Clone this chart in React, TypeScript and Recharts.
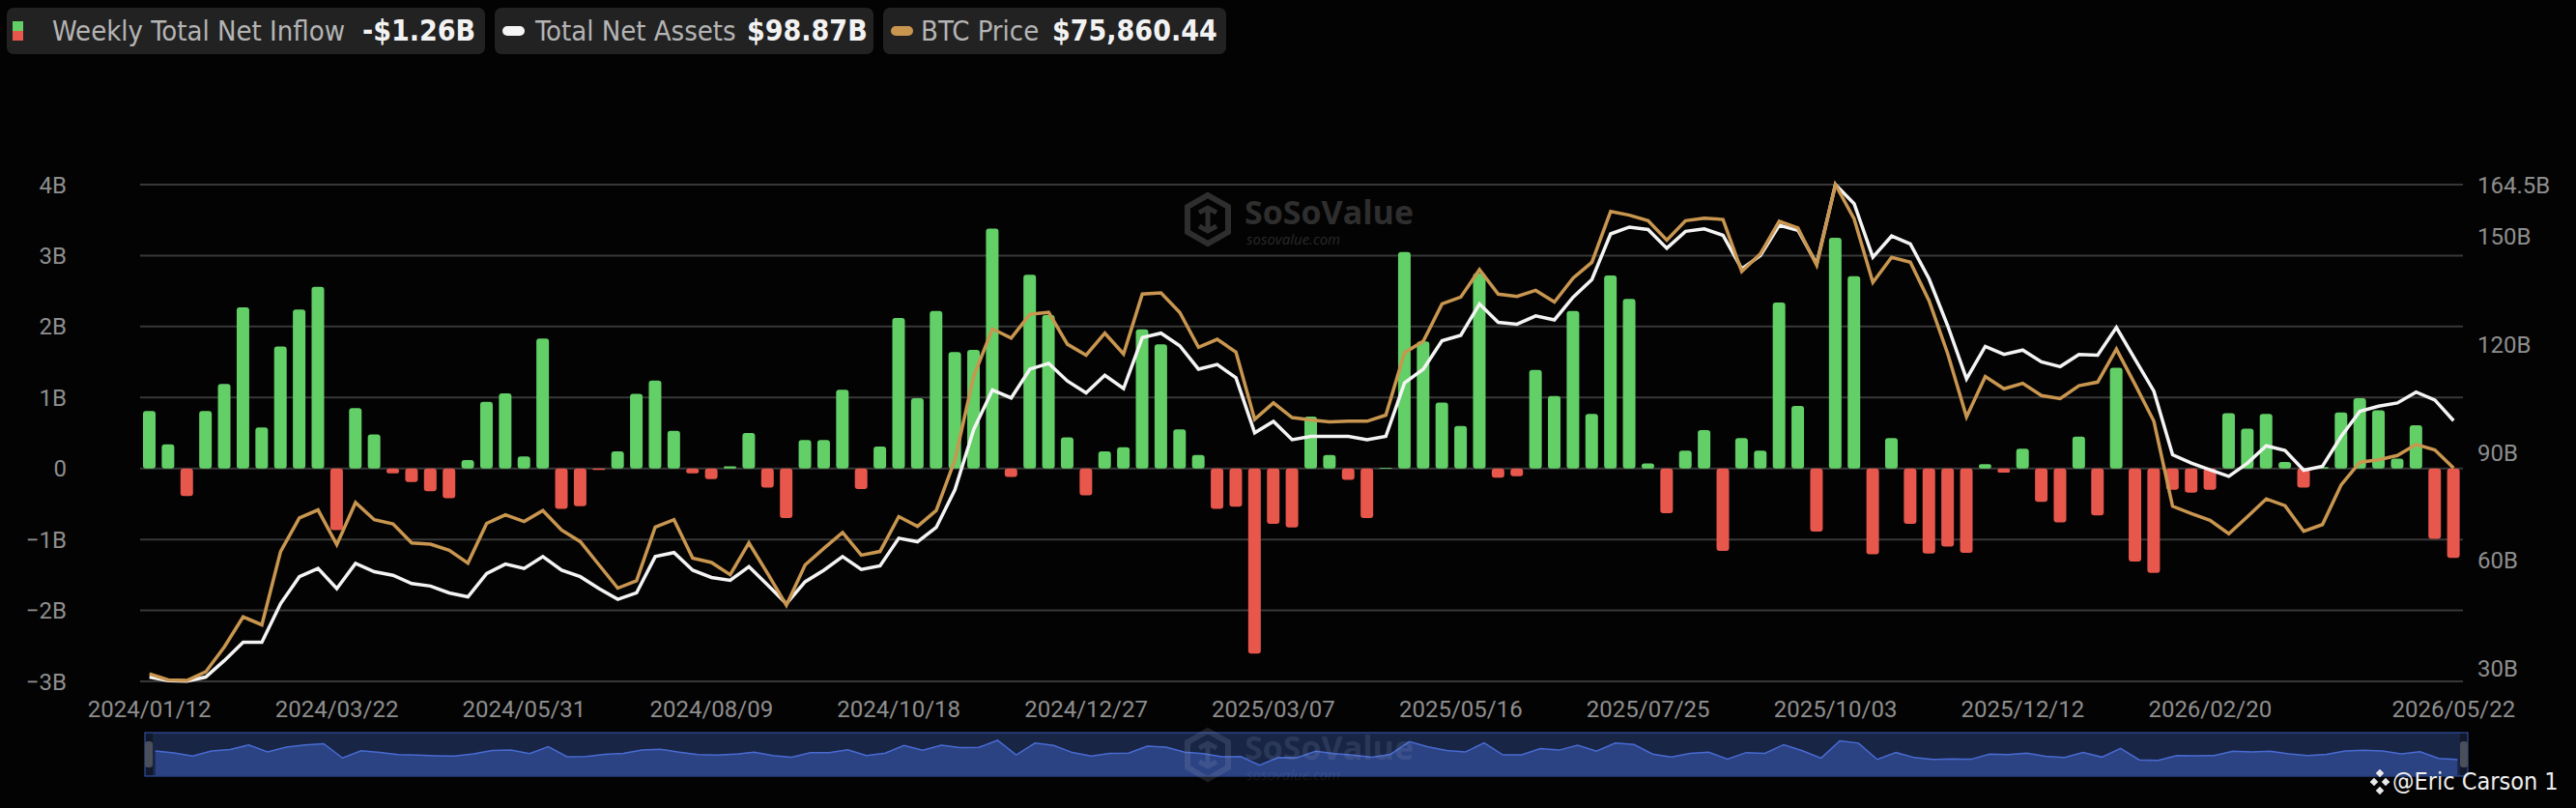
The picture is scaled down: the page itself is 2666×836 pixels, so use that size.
import { ComposedChart, AreaChart, Bar, Line, Area, XAxis, YAxis, CartesianGrid, Cell, Brush } from 'recharts'

// weekly Friday dates, 2024/01/12 .. 2026/05/22
function weeklyDates(start: string, count: number) {
  const out: string[] = []
  const t0 = Date.parse(start + 'T00:00:00Z')
  for (let i = 0; i < count; i++) {
    const d = new Date(t0 + i * 7 * 86400000)
    const mm = String(d.getUTCMonth() + 1).padStart(2, '0')
    const dd = String(d.getUTCDate()).padStart(2, '0')
    out.push(`${d.getUTCFullYear()}/${mm}/${dd}`)
  }
  return out
}

const dates = weeklyDates('2024-01-12', 124)

const dateTicks = [
  '2024/01/12', '2024/03/22', '2024/05/31', '2024/08/09', '2024/10/18', '2024/12/27',
  '2025/03/07', '2025/05/16', '2025/07/25', '2025/10/03', '2025/12/12', '2026/02/20', '2026/05/22',
]

// weekly total net inflow, billions USD
const inflow = [
  0.81, 0.34, -0.39, 0.81, 1.19, 2.27, 0.58, 1.72, 2.24, 2.56,
  -0.87, 0.85, 0.48, -0.07, -0.19, -0.32, -0.42, 0.12, 0.94, 1.06,
  0.17, 1.83, -0.57, -0.53, -0.02, 0.24, 1.05, 1.24, 0.53, -0.07,
  -0.15, 0.03, 0.5, -0.27, -0.7, 0.4, 0.4, 1.11, -0.29, 0.31,
  2.12, 0.99, 2.22, 1.64, 1.67, 3.38, -0.12, 2.73, 2.16, 0.44,
  -0.38, 0.24, 0.3, 1.96, 1.75, 0.55, 0.19, -0.57, -0.54, -2.61,
  -0.78, -0.83, 0.73, 0.19, -0.16, -0.7, 0.01, 3.05, 1.79, 0.93,
  0.6, 2.75, -0.13, -0.11, 1.39, 1.02, 2.22, 0.77, 2.72, 2.39,
  0.07, -0.63, 0.25, 0.54, -1.16, 0.43, 0.25, 2.34, 0.88, -0.89,
  3.25, 2.71, -1.21, 0.43, -0.78, -1.2, -1.1, -1.19, 0.06, -0.06,
  0.28, -0.47, -0.76, 0.45, -0.66, 1.42, -1.31, -1.47, -0.3, -0.34,
  -0.3, 0.78, 0.56, 0.77, 0.09, -0.27, 0.02, 0.79, 0.99, 0.82,
  0.14, 0.61, -0.99, -1.26,
]

// total net assets, billions USD
const netAssets = [
  27.6, 26.6, 26.5, 27.6, 32.2, 37.3, 37.3, 48.0, 55.5, 57.8,
  52.2, 59.2, 56.9, 55.9, 53.6, 52.9, 51.0, 49.9, 56.4, 59.0,
  57.8, 61.1, 57.3, 55.5, 52.2, 49.2, 51.0, 61.1, 62.2, 57.3,
  55.3, 54.5, 58.3, 53.2, 48.0, 54.1, 57.3, 61.1, 57.5, 58.5,
  66.2, 65.2, 69.2, 79.7, 96.4, 107.4, 105.2, 113.2, 114.8, 109.9,
  106.6, 111.5, 107.8, 122.0, 123.2, 119.7, 113.2, 114.5, 110.8, 95.5,
  98.7, 93.6, 94.5, 94.5, 94.5, 93.6, 94.5, 109.4, 113.2, 121.1,
  122.6, 131.3, 126.2, 125.7, 128.0, 126.9, 133.2, 138.1, 150.8, 152.7,
  152.0, 146.8, 151.5, 152.2, 150.4, 141.1, 144.8, 153.2, 151.8, 142.5,
  164.5, 159.2, 144.3, 150.2, 148.0, 138.3, 125.2, 110.5, 119.5, 117.3,
  118.5, 115.2, 113.9, 117.3, 117.1, 124.8, 115.9, 107.1, 89.4, 87.1,
  85.2, 83.4, 87.1, 91.9, 90.6, 85.1, 86.2, 94.5, 101.5, 102.9,
  103.8, 106.8, 104.6, 98.87,
]

// BTC price, USD
const btcPrice = [
  42200, 41200, 41100, 42500, 46600, 51500, 50200, 62200, 67700, 69000,
  63300, 70200, 67400, 66700, 63600, 63400, 62400, 60300, 66800, 68200,
  67100, 68900, 65700, 63800, 60000, 56200, 57400, 66200, 67400, 61100,
  60400, 58400, 63600, 58600, 53400, 60000, 62700, 65300, 61600, 62200,
  67900, 66300, 68900, 77200, 90900, 98600, 97100, 101000, 101300, 96100,
  94300, 97900, 94500, 104300, 104500, 101300, 95600, 96900, 94800, 83800,
  86500, 84100, 83700, 83400, 83500, 83500, 84500, 94700, 96600, 102700,
  103800, 108300, 104300, 103900, 104900, 103000, 106900, 109500, 117800, 117200,
  116300, 113100, 116300, 116700, 116500, 108000, 110900, 116200, 115100, 109000,
  122200, 116600, 106200, 110300, 109500, 103200, 94500, 84200, 90800, 88800,
  89700, 87700, 87200, 89300, 89900, 95300, 89500, 83500, 69600, 68400,
  67300, 65100, 67900, 70800, 69700, 65500, 66600, 73100, 76800, 77200,
  77900, 79700, 78800, 75860,
]

const flowTicks = [-3, -2, -1, 0, 1, 2, 3, 4]
const assetTicks = [30, 60, 90, 120, 150, 164.5]

const data = dates.map((date, i) => ({
  date,
  inflow: inflow[i],
  assets: netAssets[i],
  btc: btcPrice[i],
}))

const GREEN = '#62cf67'
const RED = '#e8574c'
const ORANGE = '#c99650'
const axisFont = 'Roboto, "Noto Sans", sans-serif'
const legendFont = '"Liberation Sans Narrow", "DejaVu Sans Condensed", Roboto, sans-serif'

const fmtFlow = (v: number) => (v === 0 ? '0' : `${v < 0 ? '−' : ''}${Math.abs(v)}B`)
const fmtAssets = (v: number) => `${v}B`

function Traveller(props: any) {
  const { x, y, width, height } = props
  return <rect x={x} y={y + height * 0.2} width={width} height={height * 0.6} rx={3} fill="#4a4f5a" />
}

function Pill({ left, width }: { left: number; width: number }) {
  return (
    <div style={{ position: 'absolute', left, top: 8, width, height: 48, background: '#222', borderRadius: 7 }} />
  )
}

function Label({ left, text, bold }: { left: number; text: string; bold?: boolean }) {
  return (
    <div
      style={{
        position: 'absolute',
        left,
        top: 8,
        height: 48,
        lineHeight: '48px',
        fontFamily: legendFont,
        fontSize: bold ? 30 : 29,
        fontWeight: bold ? 700 : 400,
        color: bold ? '#f2f2f2' : '#b4b4b4',
        whiteSpace: 'nowrap',
      }}
    >
      {text}
    </div>
  )
}

function Watermark({ left, top, color, small }: { left: number; top: number; color: string; small: string }) {
  return (
    <div style={{ position: 'absolute', left, top, width: 300, height: 60, pointerEvents: 'none' }}>
      <svg style={{ position: 'absolute', left: 0, top: 0 }} width={50} height={60}>
        <polygon points="24,4 45,16 45,42 24,54 3,42 3,16" fill="none" stroke={color} strokeWidth={6} />
        <path d="M15,22 L24,17 L33,22 M15,36 L24,41 L33,36 M24,17 L24,41" stroke={color} strokeWidth={5} fill="none" />
      </svg>
      <div
        style={{
          position: 'absolute',
          left: 62,
          top: 2,
          fontFamily: '"Open Sans", sans-serif',
          fontWeight: 700,
          fontSize: 34,
          lineHeight: '38px',
          color,
          whiteSpace: 'nowrap',
        }}
      >
        SoSoValue
      </div>
      <div
        style={{
          position: 'absolute',
          left: 64,
          top: 40,
          fontFamily: '"Open Sans", sans-serif',
          fontStyle: 'italic',
          fontSize: 15,
          lineHeight: '18px',
          color: small,
          whiteSpace: 'nowrap',
        }}
      >
        sosovalue.com
      </div>
    </div>
  )
}

export default function App() {
  return (
    <div style={{ position: 'relative', width: 2666, height: 836, background: '#030303', overflow: 'hidden' }}>
      <style>{'body{margin:0;background:#030303}'}</style>

      {/* legend */}
      <Pill left={7} width={495} />
      <Pill left={512} width={392} />
      <Pill left={914} width={355} />
      <div style={{ position: 'absolute', left: 13, top: 22, width: 11, height: 10, background: GREEN }} />
      <div style={{ position: 'absolute', left: 13, top: 32, width: 11, height: 10, background: RED }} />
      <div style={{ position: 'absolute', left: 520, top: 27, width: 23, height: 10, borderRadius: 5, background: '#f5f5f5' }} />
      <div style={{ position: 'absolute', left: 922, top: 27, width: 23, height: 10, borderRadius: 5, background: ORANGE }} />
      <Label left={54} text="Weekly Total Net Inflow" />
      <Label left={375} text="-$1.26B" bold />
      <Label left={554} text="Total Net Assets" />
      <Label left={773} text="$98.87B" bold />
      <Label left={953} text="BTC Price" />
      <Label left={1089} text="$75,860.44" bold />

      <Watermark left={1226} top={198} color="#2e2e2e" small="#2a2a2a" />

      <div style={{ position: 'absolute', left: 0, top: 0 }}>
        <ComposedChart width={2666} height={836} data={data} margin={{ top: 191, right: 0, left: 0, bottom: 33 }}>
          <CartesianGrid yAxisId="flow" vertical={false} stroke="#383838" strokeWidth={2} />
          <XAxis
            dataKey="date"
            ticks={dateTicks}
            interval={0}
            height={53}
            axisLine={false}
            tickLine={false}
            tickMargin={14}
            tick={{ fontSize: 24, fill: '#8e8e8e', fontFamily: axisFont }}
          />
          <YAxis
            yAxisId="flow"
            orientation="left"
            width={145}
            domain={[-3, 4]}
            ticks={flowTicks}
            tickFormatter={fmtFlow}
            axisLine={false}
            tickLine={false}
            tickMargin={10}
            tick={{ fontSize: 24, fill: '#8e8e8e', fontFamily: axisFont, textAnchor: 'end' }}
          />
          <YAxis
            yAxisId="assets"
            orientation="right"
            width={117}
            domain={[26.4, 164.5]}
            ticks={assetTicks}
            tickFormatter={fmtAssets}
            axisLine={false}
            tickLine={false}
            tickMargin={9}
            tick={{ fontSize: 24, fill: '#8e8e8e', fontFamily: axisFont, textAnchor: 'start' }}
          />
          <YAxis yAxisId="btc" orientation="right" hide width={0} domain={[40950, 122200]} />
          <Bar yAxisId="flow" dataKey="inflow" barSize={13} radius={3} isAnimationActive={false}>
            {data.map((d) => (
              <Cell key={d.date} fill={d.inflow >= 0 ? GREEN : RED} />
            ))}
          </Bar>
          <Line
            yAxisId="assets"
            dataKey="assets"
            type="linear"
            stroke="#f4f4f4"
            strokeWidth={3.5}
            dot={false}
            isAnimationActive={false}
          />
          <Line
            yAxisId="btc"
            dataKey="btc"
            type="linear"
            stroke={ORANGE}
            strokeWidth={3.5}
            dot={false}
            isAnimationActive={false}
          />
          <Brush
            dataKey="date"
            x={150}
            y={758}
            width={2404}
            height={45}
            fill="#101829"
            stroke="#3a5ab8"
            travellerWidth={8}
            traveller={Traveller}
          >
            <AreaChart data={data}>
              <YAxis hide domain={[-5, 5]} />
              <Area
                dataKey="inflow"
                type="linear"
                stroke="#4c6fd8"
                strokeWidth={1.5}
                fill="#2b427e"
                fillOpacity={0.9}
                baseValue="dataMin"
                isAnimationActive={false}
              />
            </AreaChart>
          </Brush>
        </ComposedChart>
      </div>

      {/* faint mark over the slider */}
      <Watermark left={1226} top={752} color="rgba(150,160,190,0.18)" small="rgba(150,160,190,0.14)" />

      {/* credit */}
      <svg style={{ position: 'absolute', left: 2453, top: 796 }} width={20} height={26}>
        <g fill="#e8e8e8">
          <rect x={7} y={1} width={6} height={6} transform="rotate(45 10 4)" />
          <rect x={7} y={19} width={6} height={6} transform="rotate(45 10 22)" />
          <rect x={1} y={10} width={6} height={6} transform="rotate(45 4 13)" />
          <rect x={13} y={10} width={6} height={6} transform="rotate(45 16 13)" />
        </g>
      </svg>
      <div
        style={{
          position: 'absolute',
          left: 2476,
          top: 794,
          fontFamily: legendFont,
          fontSize: 25,
          color: '#eeeeee',
          whiteSpace: 'nowrap',
        }}
      >
        @Eric Carson 1
      </div>
    </div>
  )
}
